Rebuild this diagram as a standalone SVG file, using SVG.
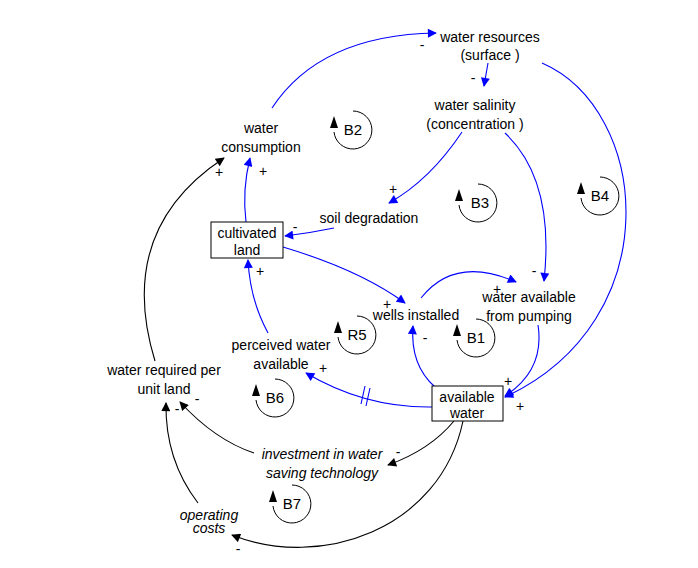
<svg xmlns="http://www.w3.org/2000/svg" width="698" height="568" viewBox="0 0 698 568">
<style>
text{font-family:"Liberation Sans",Arial,sans-serif;font-size:14px;fill:#000;text-anchor:middle}
.i{font-style:italic}
.l{font-size:15px}
.b{fill:none;stroke:#0000ff;stroke-width:1.1}
.k{fill:none;stroke:#000;stroke-width:1.1}
.box{fill:#fff;stroke:#000;stroke-width:1}
.lp{fill:none;stroke:#000;stroke-width:1}
</style>
<defs>
<marker id="ab" viewBox="0 0 10 10" refX="9" refY="5" markerWidth="11" markerHeight="9" markerUnits="userSpaceOnUse" orient="auto"><path d="M0,0L10,5L0,10z" fill="#0000ff"/></marker>
<marker id="ak" viewBox="0 0 10 10" refX="9" refY="5" markerWidth="11" markerHeight="9" markerUnits="userSpaceOnUse" orient="auto"><path d="M0,0L10,5L0,10z" fill="#000"/></marker>
<g id="loop"><path class="lp" d="M0,-19 A19,19 0 1 1 -19,2"/><path d="M-23,-2 L-19,-14 L-15,-2z" fill="#000"/></g>
</defs>
<rect width="698" height="568" fill="#fff"/>
<g id="connectors">
<path class="b" d="M272,108 Q320,35 436,33" marker-end="url(#ab)"/>
<path class="b" d="M488,63 L484,86" marker-end="url(#ab)"/>
<path class="b" d="M462,132 Q430,180 389,203" marker-end="url(#ab)"/>
<path class="b" d="M334,228 Q310,233 285,236" marker-end="url(#ab)"/>
<path class="b" d="M505,133 Q555,180 544,281" marker-end="url(#ab)"/>
<path class="b" d="M542,63 C650,110 670,320 505,397" marker-end="url(#ab)"/>
<path class="b" d="M283,247 Q360,270 405,303" marker-end="url(#ab)"/>
<path class="b" d="M421,298 Q455,255 516,282" marker-end="url(#ab)"/>
<path class="b" d="M538,325 Q545,370 505,396" marker-end="url(#ab)"/>
<path class="b" d="M435,387 Q410,365 413,326" marker-end="url(#ab)"/>
<path class="b" d="M432,407 Q365,408 306,373" marker-end="url(#ab)"/>
<path class="b" d="M365,386 L361,404 M370,388 L366,406"/>
<path class="b" d="M268,333 Q250,300 248,260" marker-end="url(#ab)"/>
<path class="b" d="M246,222 Q242,190 250,158" marker-end="url(#ab)"/>
<path class="k" d="M155,361 Q115,230 224,158" marker-end="url(#ak)"/>
<path class="k" d="M254,453 Q215,440 180,402" marker-end="url(#ak)"/>
<path class="k" d="M454,421 Q430,450 388,465" marker-end="url(#ak)"/>
<path class="k" d="M463,421 C440,530 320,570 232,535" marker-end="url(#ak)"/>
<path class="k" d="M198,503 Q165,460 166,403" marker-end="url(#ak)"/>
</g>
<g id="signs">
<text x="422" y="50">-</text><text x="473" y="83">-</text><text x="393" y="194">+</text>
<text x="295" y="232">-</text><text x="534" y="276">-</text><text x="520" y="411">+</text>
<text x="387" y="309">+</text><text x="497" y="294">+</text><text x="508" y="386">+</text>
<text x="425" y="343">-</text><text x="323" y="373">+</text><text x="260" y="276">+</text>
<text x="263" y="176">+</text><text x="219" y="177">+</text><text x="197" y="404">-</text>
<text x="177" y="414">-</text><text x="398" y="457">-</text><text x="238" y="554">-</text>
</g>
<g id="water-resources"><text x="490" y="42">water resources</text><text x="490" y="60">(surface )</text></g>
<g id="water-salinity"><text x="475" y="110">water salinity</text><text x="475" y="129">(concentration )</text></g>
<g id="water-consumption"><text x="261" y="133">water</text><text x="261" y="152">consumption</text></g>
<g id="soil-degradation"><text x="369" y="223">soil degradation</text></g>
<g id="cultivated-land"><rect class="box" x="211" y="222" width="72" height="36"/><text x="247" y="238">cultivated</text><text x="247" y="255">land</text></g>
<g id="wells-installed"><text x="416" y="320">wells installed</text></g>
<g id="water-pumping"><text x="529" y="302">water available</text><text x="529" y="321">from pumping</text></g>
<g id="perceived-water"><text x="281" y="350">perceived water</text><text x="281" y="369">available</text></g>
<g id="water-required"><text x="164" y="375">water required per</text><text x="164" y="394">unit land</text></g>
<g id="available-water"><rect class="box" x="432" y="386" width="71" height="35"/><text x="467" y="402">available</text><text x="467" y="418">water</text></g>
<g id="investment"><text class="i" x="322" y="459">investment in water</text><text class="i" x="322" y="478">saving technology</text></g>
<g id="operating-costs"><text class="i" x="209" y="520">operating</text><text class="i" x="209" y="533">costs</text></g>
<g id="loops">
<use href="#loop" x="353" y="130"/><text class="l" x="353" y="135">B2</text>
<use href="#loop" x="478" y="203"/><text class="l" x="480" y="208">B3</text>
<use href="#loop" x="600" y="196"/><text class="l" x="600" y="201">B4</text>
<use href="#loop" x="357" y="335"/><text class="l" x="357" y="340">R5</text>
<use href="#loop" x="476" y="338"/><text class="l" x="476" y="343">B1</text>
<use href="#loop" x="275" y="398"/><text class="l" x="275" y="403">B6</text>
<use href="#loop" x="292" y="504"/><text class="l" x="292" y="509">B7</text>
</g>
</svg>
